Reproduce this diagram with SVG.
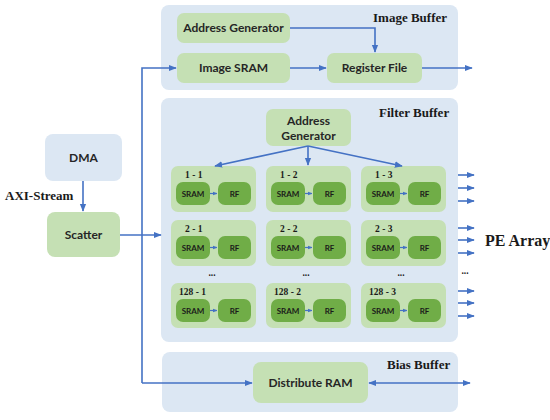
<svg xmlns="http://www.w3.org/2000/svg" width="550" height="420" viewBox="0 0 550 420">
<defs>
<style>
.panel{fill:#dce7f3}
.box{fill:#c5e0b4}
.dma{fill:#dce7f3}
.inner{fill:#70ad47}
.t{font-family:"Lato","Open Sans","Liberation Sans",sans-serif;font-weight:bold;font-size:12px;fill:#262626;text-anchor:middle}
.ts{font-family:"Lato","Open Sans","Liberation Sans",sans-serif;font-weight:bold;font-size:8px;fill:#1a1a1a;text-anchor:middle}
.lbl{font-family:"Liberation Serif",serif;font-weight:bold;font-size:13px;fill:#1a1a1a}
.cl{font-family:"Liberation Serif",serif;font-weight:bold;font-size:9.5px;fill:#1a1a1a}
.ln{stroke:#4472c4;stroke-width:1.6;fill:none}
.sm{stroke:#4472c4;stroke-width:1.2;fill:none}
</style>
<marker id="ah" viewBox="0 0 10 10" refX="9" refY="5" markerWidth="5" markerHeight="5" orient="auto-start-reverse" markerUnits="strokeWidth">
<path d="M0,1 L10,5 L0,9 z" fill="#4472c4"/>
</marker>
<marker id="ahs" viewBox="0 0 10 10" refX="9" refY="5" markerWidth="4" markerHeight="4" orient="auto" markerUnits="strokeWidth">
<path d="M0,1 L10,5 L0,9 z" fill="#4472c4"/>
</marker>
</defs>

<g id="image-buffer">
<rect class="panel" x="161" y="5" width="297" height="85" rx="8"/>
<text class="lbl" x="373" y="22">Image Buffer</text>
</g>
<g id="img-addr-gen">
<rect class="box" x="177" y="13" width="113" height="30" rx="7"/>
<text class="t" x="233.5" y="32">Address Generator</text>
</g>
<g id="image-sram">
<rect class="box" x="177" y="53" width="113" height="30" rx="7"/>
<text class="t" x="233.5" y="72">Image SRAM</text>
</g>
<g id="register-file">
<rect class="box" x="327" y="53" width="95" height="30" rx="7"/>
<text class="t" x="374.5" y="72">Register File</text>
</g>

<g id="filter-buffer">
<rect class="panel" x="161" y="98" width="297" height="244" rx="8"/>
<text class="lbl" x="379" y="117">Filter Buffer</text>
</g>
<g id="flt-addr-gen">
<rect class="box" x="266" y="109" width="85" height="37" rx="7"/>
<text class="t" x="308.5" y="125">Address</text>
<text class="t" x="308.5" y="140">Generator</text>
</g>

<g id="cell-1-1"><rect class="box" x="171" y="166" width="85" height="46" rx="7"/><text class="cl" x="185" y="178">1 - 1</text><rect class="inner" x="176" y="182" width="34" height="23" rx="7"/><text class="ts" x="193" y="196.5">SRAM</text><rect class="inner" x="218" y="182" width="33" height="23" rx="7"/><text class="ts" x="234.5" y="196.5">RF</text></g>
<g id="cell-1-2"><rect class="box" x="266" y="166" width="85" height="46" rx="7"/><text class="cl" x="280" y="178">1 - 2</text><rect class="inner" x="271" y="182" width="34" height="23" rx="7"/><text class="ts" x="288" y="196.5">SRAM</text><rect class="inner" x="313" y="182" width="33" height="23" rx="7"/><text class="ts" x="329.5" y="196.5">RF</text></g>
<g id="cell-1-3"><rect class="box" x="361" y="166" width="85" height="46" rx="7"/><text class="cl" x="375" y="178">1 - 3</text><rect class="inner" x="366" y="182" width="34" height="23" rx="7"/><text class="ts" x="383" y="196.5">SRAM</text><rect class="inner" x="408" y="182" width="33" height="23" rx="7"/><text class="ts" x="424.5" y="196.5">RF</text></g>

<g id="cell-2-1"><rect class="box" x="171" y="220" width="85" height="46" rx="7"/><text class="cl" x="185" y="232">2 - 1</text><rect class="inner" x="176" y="236" width="34" height="23" rx="7"/><text class="ts" x="193" y="250.5">SRAM</text><rect class="inner" x="218" y="236" width="33" height="23" rx="7"/><text class="ts" x="234.5" y="250.5">RF</text></g>
<g id="cell-2-2"><rect class="box" x="266" y="220" width="85" height="46" rx="7"/><text class="cl" x="280" y="232">2 - 2</text><rect class="inner" x="271" y="236" width="34" height="23" rx="7"/><text class="ts" x="288" y="250.5">SRAM</text><rect class="inner" x="313" y="236" width="33" height="23" rx="7"/><text class="ts" x="329.5" y="250.5">RF</text></g>
<g id="cell-2-3"><rect class="box" x="361" y="220" width="85" height="46" rx="7"/><text class="cl" x="375" y="232">2 - 3</text><rect class="inner" x="366" y="236" width="34" height="23" rx="7"/><text class="ts" x="383" y="250.5">SRAM</text><rect class="inner" x="408" y="236" width="33" height="23" rx="7"/><text class="ts" x="424.5" y="250.5">RF</text></g>

<g id="dots">
<text class="cl" x="212" y="276" text-anchor="middle">...</text>
<text class="cl" x="306" y="276" text-anchor="middle">...</text>
<text class="cl" x="401" y="276" text-anchor="middle">...</text>
<text class="cl" x="465" y="274" text-anchor="middle">...</text>
</g>

<g id="cell-128-1"><rect class="box" x="171" y="283" width="85" height="45" rx="7"/><text class="cl" x="179" y="295">128 - 1</text><rect class="inner" x="176" y="299" width="34" height="23" rx="7"/><text class="ts" x="193" y="313.5">SRAM</text><rect class="inner" x="218" y="299" width="33" height="23" rx="7"/><text class="ts" x="234.5" y="313.5">RF</text></g>
<g id="cell-128-2"><rect class="box" x="266" y="283" width="85" height="45" rx="7"/><text class="cl" x="274" y="295">128 - 2</text><rect class="inner" x="271" y="299" width="34" height="23" rx="7"/><text class="ts" x="288" y="313.5">SRAM</text><rect class="inner" x="313" y="299" width="33" height="23" rx="7"/><text class="ts" x="329.5" y="313.5">RF</text></g>
<g id="cell-128-3"><rect class="box" x="361" y="283" width="85" height="45" rx="7"/><text class="cl" x="369" y="295">128 - 3</text><rect class="inner" x="366" y="299" width="34" height="23" rx="7"/><text class="ts" x="383" y="313.5">SRAM</text><rect class="inner" x="408" y="299" width="33" height="23" rx="7"/><text class="ts" x="424.5" y="313.5">RF</text></g>

<g id="bias-buffer">
<rect class="panel" x="162" y="352" width="296" height="60" rx="8"/>
<text class="lbl" x="387" y="369">Bias Buffer</text>
</g>
<g id="distribute-ram">
<rect class="box" x="253" y="362" width="115" height="41" rx="8"/>
<text class="t" x="310.5" y="387">Distribute RAM</text>
</g>

<g id="dma">
<rect class="dma" x="45" y="134" width="77" height="47" rx="8"/>
<text class="t" x="83.5" y="162">DMA</text>
</g>
<g id="scatter">
<rect class="box" x="47" y="212" width="73" height="45" rx="8"/>
<text class="t" x="83.5" y="239">Scatter</text>
</g>
<g id="labels">
<text class="lbl" x="5" y="200">AXI-Stream</text>
<text class="lbl" x="485" y="246" style="font-size:16px">PE Array</text>
</g>

<g id="connectors">
<path class="ln" d="M290,28 H375 V52" marker-end="url(#ah)"/>
<path class="ln" d="M290,68 H326" marker-end="url(#ah)"/>
<path class="ln" d="M422,68 H472" marker-end="url(#ah)"/>
<path class="ln" d="M142,383 V68 H176" marker-end="url(#ah)"/>
<path class="ln" d="M142,383 H252" marker-end="url(#ah)"/>
<path class="ln" d="M369,383 H470" marker-start="url(#ah)" marker-end="url(#ah)"/>
<path class="ln" d="M83,181 V211" marker-end="url(#ah)"/>
<path class="ln" d="M120,235 H161" marker-end="url(#ah)"/>
<path class="ln" d="M308,146 L215,166" marker-end="url(#ah)"/>
<path class="ln" d="M308,146 V165" marker-end="url(#ah)"/>
<path class="ln" d="M308,146 L402,166" marker-end="url(#ah)"/>
<g class="sm">
<path d="M210,193.5 H217" marker-end="url(#ahs)"/><path d="M305,193.5 H312" marker-end="url(#ahs)"/><path d="M400,193.5 H407" marker-end="url(#ahs)"/>
<path d="M210,247.5 H217" marker-end="url(#ahs)"/><path d="M305,247.5 H312" marker-end="url(#ahs)"/><path d="M400,247.5 H407" marker-end="url(#ahs)"/>
<path d="M210,310.5 H217" marker-end="url(#ahs)"/><path d="M305,310.5 H312" marker-end="url(#ahs)"/><path d="M400,310.5 H407" marker-end="url(#ahs)"/>
</g>
<g class="ln">
<path d="M458,175 H474" marker-end="url(#ah)"/><path d="M458,188 H474" marker-end="url(#ah)"/><path d="M458,201 H474" marker-end="url(#ah)"/>
<path d="M458,228 H474" marker-end="url(#ah)"/><path d="M458,240 H474" marker-end="url(#ah)"/><path d="M458,253 H474" marker-end="url(#ah)"/>
<path d="M458,291 H474" marker-end="url(#ah)"/><path d="M458,303 H474" marker-end="url(#ah)"/><path d="M458,316 H474" marker-end="url(#ah)"/>
</g>
</g>
</svg>
